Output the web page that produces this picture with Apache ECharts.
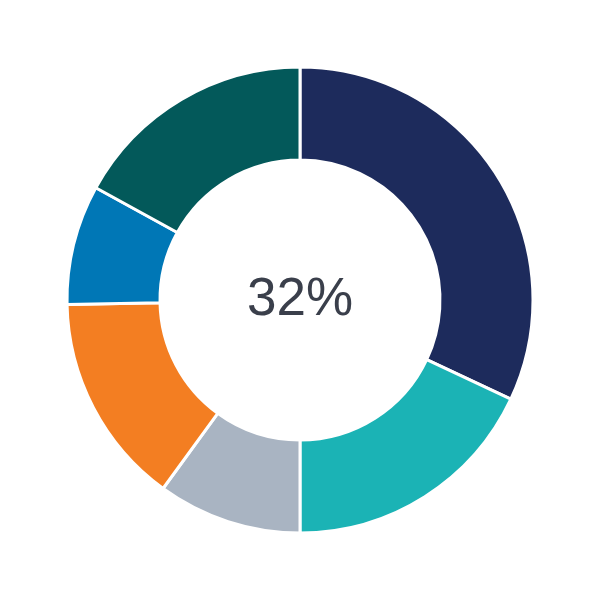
<!DOCTYPE html>
<html>
<head>
<meta charset="utf-8">
<script src="https://cdn.jsdelivr.net/npm/echarts@6/dist/echarts.min.js"></script>
<style>html,body{margin:0;padding:0;background:#fff;}#c{width:600px;height:600px;}</style>
</head>
<body>
<div id="c"></div>
<script>
const categories = ['A', 'B', 'C', 'D', 'E', 'F'];
const values = [32, 18, 10, 14.7, 8.3, 17];
const colors = ['#1d2b5c', '#1bb3b5', '#a9b4c2', '#f37e22', '#0077b6', '#03595a'];
const centerLabel = '32%';

const chart = echarts.init(document.getElementById('c'), null, {renderer: 'canvas'});
chart.setOption({
  animation: false,
  title: {
    text: centerLabel,
    left: 'center',
    top: 'middle',
    textStyle: {fontFamily: 'Liberation Sans, Arial, sans-serif', fontSize: 53, fontWeight: 'normal', color: '#3a3f4b'}
  },
  series: [{
    type: 'pie',
    center: [300, 300],
    radius: [140, 233],
    startAngle: 90,
    clockwise: true,
    label: {show: false},
    labelLine: {show: false},
    itemStyle: {borderColor: '#ffffff', borderWidth: 3},
    data: categories.map((c, i) => ({name: c, value: values[i], itemStyle: {color: colors[i]}}))
  }]
});
</script>
</body>
</html>
